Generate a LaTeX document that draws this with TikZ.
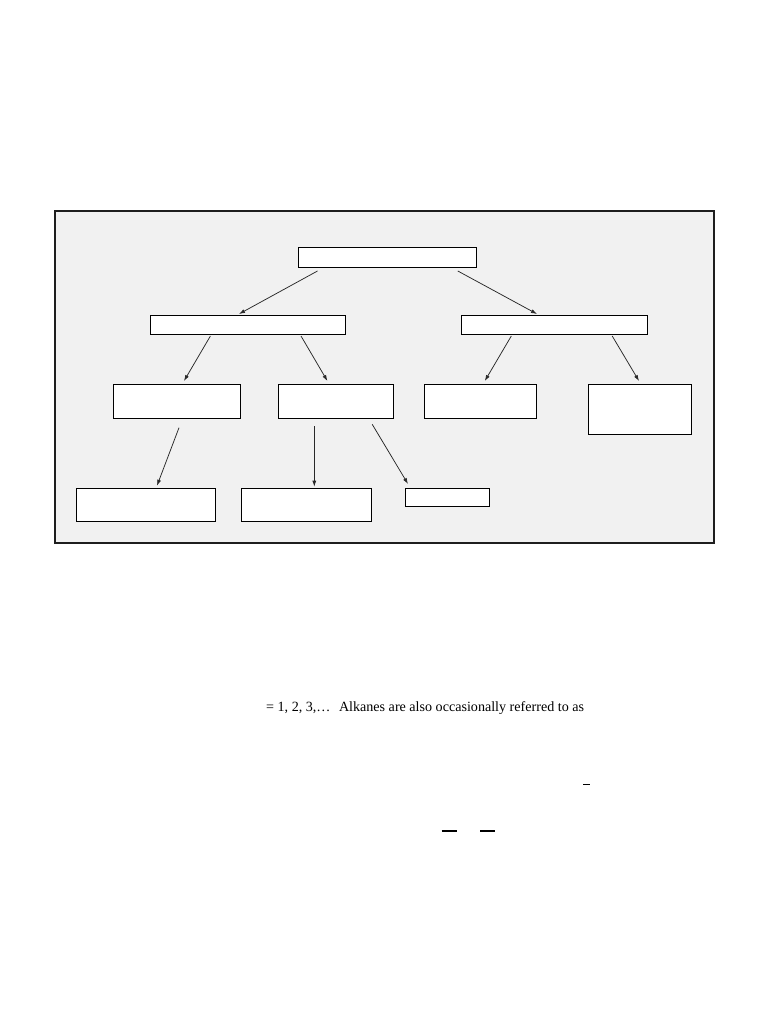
\documentclass[tikz,border=0pt]{standalone}
\usepackage{fontspec}
\setmainfont{Liberation Serif}
\usetikzlibrary{arrows.meta,calc}
\definecolor{panelfill}{RGB}{241,241,241}
\definecolor{panelline}{RGB}{30,30,30}
\definecolor{arrowcol}{RGB}{40,40,40}
\tikzset{
  box/.style={draw=black,fill=white,line width=1pt,inner sep=0pt,outer sep=0pt,rectangle},
  link/.style={draw=arrowcol,line width=0.75pt,-{Latex[length=6pt,width=4pt]}},
  bar/.style={draw=black,line width=1.2pt}
}
\begin{document}
\begin{tikzpicture}[x=1pt,y=-1pt]
\useasboundingbox (0,0) rectangle (768,1024);
\fill[white] (0,0) rectangle (768,1024);
\draw[fill=panelfill,draw=panelline,line width=2pt] (54.5,211.5) rectangle (714,542.5);
% boxes
\node[box,minimum width=178pt,minimum height=20pt] (top) at (387.5,257) {};
\node[box,minimum width=195pt,minimum height=19.5pt] (L) at (247.5,324.75) {};
\node[box,minimum width=185.5pt,minimum height=19.5pt] (R) at (554.25,324.75) {};
\node[box,minimum width=127.5pt,minimum height=33.5pt] (A) at (176.75,401.25) {};
\node[box,minimum width=114.5pt,minimum height=33.5pt] (B) at (335.75,401.25) {};
\node[box,minimum width=111.5pt,minimum height=33.5pt] (C) at (480.25,401.25) {};
\node[box,minimum width=102.5pt,minimum height=49.5pt] (D) at (639.75,409.25) {};
\node[box,minimum width=139.5pt,minimum height=33pt] (E) at (145.75,505) {};
\node[box,minimum width=130pt,minimum height=33pt] (F) at (306,505) {};
\node[box,minimum width=84pt,minimum height=18pt] (G) at (447.5,497.5) {};
% connectors
\draw[link] ($(top.south west)+(19,4)$) -- ($(L.north west)+(89,-1)$);
\draw[link] ($(top.south west)+(159.3,4)$) -- ($(R.north west)+(75.5,-1)$);
\draw[link] ($(L.south west)+(60.4,1.5)$) -- ($(A.north west)+(71,-3.5)$);
\draw[link] ($(L.south west)+(151,1.5)$) -- ($(B.north west)+(48.9,-3.5)$);
\draw[link] ($(R.south west)+(49.8,1.5)$) -- ($(C.north west)+(60.3,-3.5)$);
\draw[link] ($(R.south west)+(150.7,1.5)$) -- ($(D.north west)+(50.5,-3.5)$);
\draw[link] ($(A.south west)+(66,9.7)$) -- ($(E.north west)+(81,-2.8)$);
\draw[link] ($(B.south west)+(35.8,8)$) -- ($(F.north west)+(73.3,-1.8)$);
\draw[link] ($(B.south west)+(93.7,6.3)$) -- ($(G.north west)+(2.5,-4.5)$);
% text below
\node[anchor=base west,inner sep=0pt,font=\fontsize{14.1}{17}\selectfont] (txt) at (266,711) {= 1, 2, 3,…\hspace{0.6em}Alkanes are also occasionally referred to as};
\coordinate (d1a) at (583,784.5); \coordinate (d1b) at (590,784.5);
\coordinate (d2a) at (441.7,831); \coordinate (d2b) at (456.7,831);
\coordinate (d3a) at (480,831); \coordinate (d3b) at (495,831);
\draw[bar] (d1a) -- (d1b);
\draw[bar] (d2a) -- (d2b);
\draw[bar] (d3a) -- (d3b);
\end{tikzpicture}
\end{document}
